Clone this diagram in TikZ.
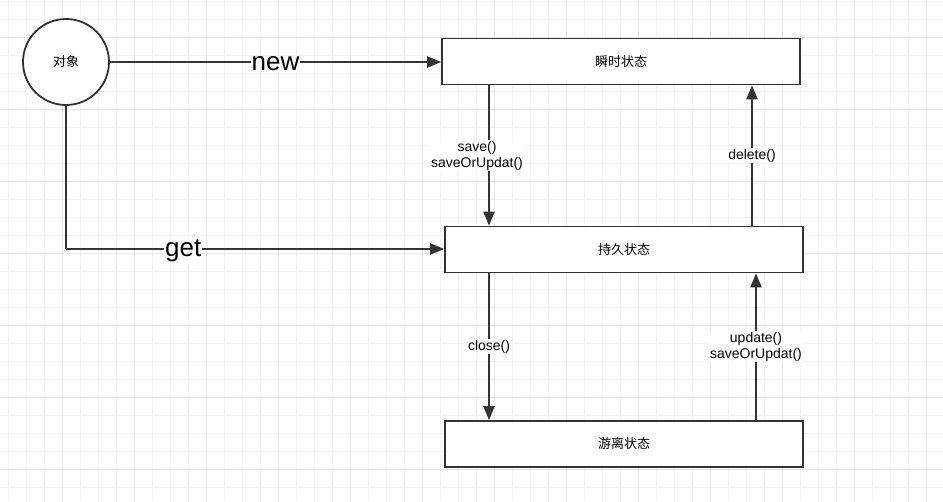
\documentclass[tikz,border=0pt]{standalone}
\usepackage{fontspec}
\setmainfont{Liberation Sans}
\newfontfamily\cjk{Noto Sans CJK SC}
\usetikzlibrary{arrows.meta}
\begin{document}
\begin{tikzpicture}[x=1pt,y=-1pt,
  box/.style={draw=black!80,line width=1.6pt,fill=white,minimum width=358pt,minimum height=46pt,inner sep=0pt,font=\cjk\fontsize{13}{15}\selectfont},
  conn/.style={draw=black!80,line width=2pt,-{Triangle[length=14pt,width=11pt]}},
  lbl/.style={fill=white,inner sep=1pt,align=center,font=\fontsize{14}{16}\selectfont},
  big/.style={fill=white,inner sep=1pt,font=\fontsize{26}{28}\selectfont}]
\useasboundingbox (0,0) rectangle (943,501);
\fill[white] (0,0) rectangle (943,501);
\foreach \x in {8,26,...,943} \draw[black!5,line width=0.8pt] (\x,0) -- (\x,501);
\foreach \y in {1,19,...,501} \draw[black!5,line width=0.8pt] (0,\y) -- (943,\y);
\foreach \x in {62,134,...,943} \draw[black!9,line width=0.8pt] (\x,0) -- (\x,501);
\foreach \y in {37,109,...,501} \draw[black!9,line width=0.8pt] (0,\y) -- (943,\y);
\node[circle,draw=black!80,line width=1.8pt,fill=white,minimum size=86pt,inner sep=0pt,font=\cjk\fontsize{13}{15}\selectfont] (obj) at (66,62) {对象};
\node[box] (s1) at (621,61.5) {瞬时状态};
\node[box] (s2) at (624,249.5) {持久状态};
\node[box] (s3) at (624,444) {游离状态};
\coordinate (g) at (66,249);
\draw[conn] (obj) -- node[big,pos=0.5,yshift=-2pt]{new} (s1.west |- obj);
\draw[draw=black!80,line width=2pt] (obj.south) -- (g);
\draw[conn] (g) -- node[big,pos=0.31,yshift=-2pt]{get} (g -| s2.west);
\coordinate (a1) at (489,0); \coordinate (a2) at (752,0); \coordinate (a3) at (756,0);
\draw[conn] (s1.south -| a1) -- node[lbl,xshift=-12pt,pos=0.5]{save()\\saveOrUpdat()} (s2.north -| a1);
\draw[conn] (s2.north -| a2) -- node[lbl,pos=0.5]{delete()} (s1.south -| a2);
\draw[conn] (s2.south -| a1) -- node[lbl,pos=0.5]{close()} (s3.north -| a1);
\draw[conn] (s3.north -| a3) -- node[lbl,pos=0.5]{update()\\saveOrUpdat()} (s2.south -| a3);
\end{tikzpicture}
\end{document}
